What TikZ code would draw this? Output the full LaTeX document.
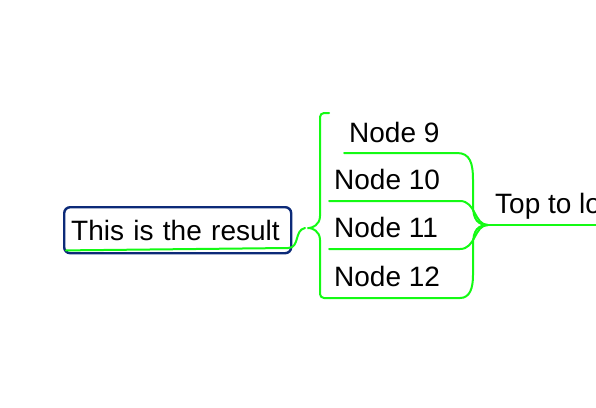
\documentclass[tikz,border=0pt]{standalone}
\usepackage{fontspec}
\setmainfont{Liberation Sans}
\definecolor{mapgreen}{RGB}{20,250,20}
\definecolor{mapblue}{RGB}{12,42,120}
\begin{document}
\begin{tikzpicture}[x=1pt, y=-1pt, inner sep=0pt,
    topic/.style={anchor=base west, font=\fontsize{28}{34}\selectfont},
    link/.style={draw=mapgreen, line width=2pt, line cap=round}]
   \useasboundingbox (0,0) rectangle (596,407);
   \clip (0,0) rectangle (596,407);
   \node[draw=mapblue, line width=2.4pt, rounded corners=6pt, anchor=north west,
         inner xsep=7pt, text width=213pt, minimum height=46pt,
         font=\fontsize{28}{34}\selectfont] (res) at (63,206) {This is the result};
   \node[topic] (n9) at (349,142) {Node 9};
   \node[topic] (n10) at (334,189) {Node 10};
   \node[topic] (n11) at (334,237) {Node 11};
   \node[topic] (n12) at (334,286) {Node 12};
   \node[topic] (top) at (495,213) {Top to lo};
   \coordinate (hub) at (488,225);
   \coordinate (nub) at (305,228);
   % underlines to the hub
   \draw[link] (n9.base west) ++(-5,11) coordinate (n9u) -- (457,153)
      .. controls (470,153) and (473,163) .. (473,180) -- (473,205)
      .. controls (473,220) and (478,225) .. (hub);
   \draw[link] (n10.base west) ++(-5,12) coordinate (n10u) -- (460,201)
      .. controls (476,201) and (474,225) .. (hub);
   \draw[link] (n11.base west) ++(-5,12) coordinate (n11u) -- (460,249)
      .. controls (476,249) and (474,225) .. (hub);
   \draw[link] (n12.base west) ++(-4,12) coordinate (n12u) -- (460,298)
      .. controls (470,298) and (473,288) .. (473,275) -- (473,245)
      .. controls (473,230) and (478,225) .. (hub);
   \draw[link] (hub) -- ++(120,0);
   % brace
   \draw[link, rounded corners=4pt] (329,113) -- (320,113) -- (320,212)
      .. controls (320,225) and (312,228) .. (nub)
      .. controls (312,228) and (320,231) .. (320,244) -- (320,298) -- (n12u);
   % result underline
   \draw[link] (res.south west) ++(3,-4) -- (288,248)
      .. controls (300,248) and (294,230) .. (nub);
\end{tikzpicture}
\end{document}
